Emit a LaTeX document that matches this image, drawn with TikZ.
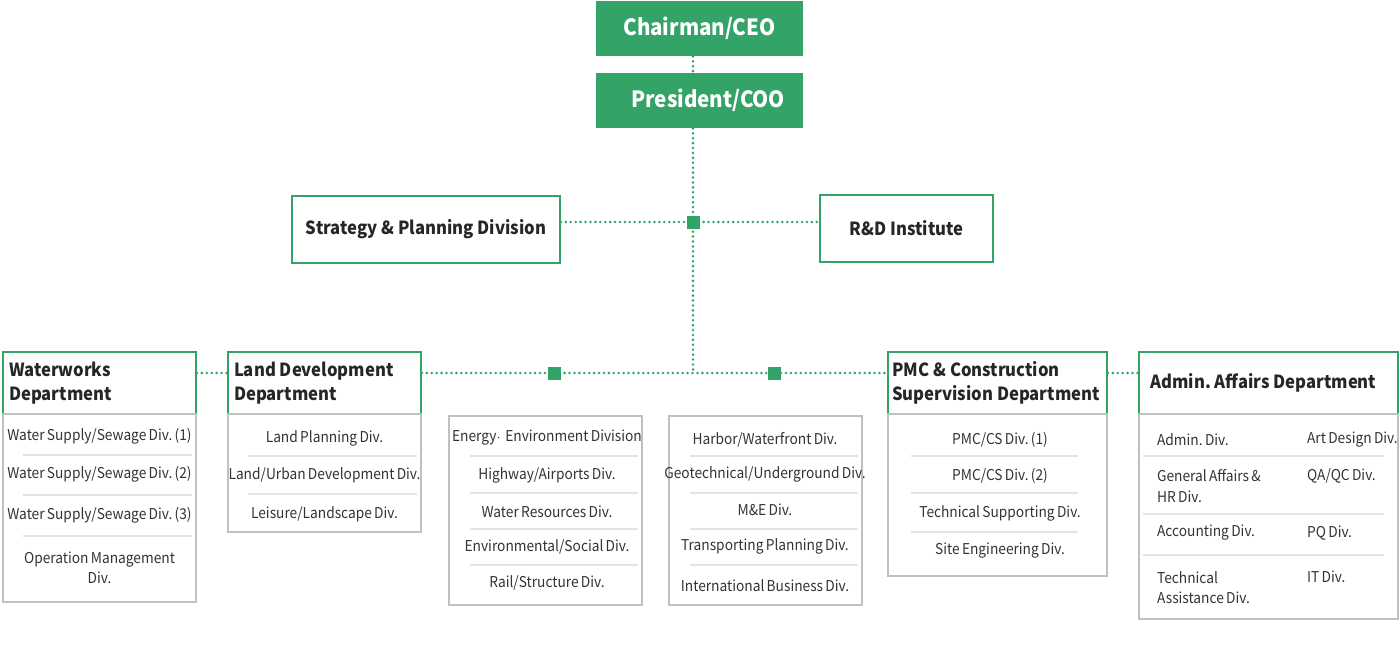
\documentclass[tikz,border=0pt]{standalone}
\usepackage{fontspec}
\setmainfont{Noto Sans CJK KR}[FakeStretch=0.92, WordSpace=0.75]
\usepackage{tikz}
\usepackage{xcolor}
\hyphenpenalty=10000
\exhyphenpenalty=10000
\frenchspacing

\definecolor{orggreen}{RGB}{52,163,104}
\definecolor{boxgray}{RGB}{192,192,192}
\definecolor{sepgray}{RGB}{228,228,228}
\definecolor{txtgray}{RGB}{51,51,51}

% bold headings with tighter word space
\newcommand{\headfont}[1]{\bfseries\fontsize{#1}{13.5}\selectfont}
\newcommand{\tightspace}{\spaceskip=0.22em plus 0.1em minus 0.05em\relax}

\tikzset{
  topbox/.style={fill=orggreen, text=white, font=\headfont{12.7}, minimum width=4.14cm, minimum height=1.1cm, inner sep=0pt},
  midbox/.style={draw=orggreen, line width=1.1pt, text=black!85, font=\headfont{10.3}, minimum height=1.34cm, inner sep=0pt, execute at begin node=\tightspace},
  headbox/.style={draw=orggreen, line width=1.1pt, fill=white, text=black!85, font=\headfont{10.3}, align=left, minimum height=1.24cm, inner sep=0.12cm, execute at begin node=\tightspace},
  itembox/.style={draw=boxgray, line width=0.6pt},
  item/.style={text=txtgray, font=\fontsize{8.5}{11.5}\selectfont, inner sep=1pt, align=center},
  sep/.style={draw=sepgray, line width=0.6pt},
  dots/.style={draw=orggreen, line width=1.6pt, line cap=round, dash pattern=on 0pt off 2.8pt},
  knot/.style={fill=orggreen, minimum size=0.26cm, inner sep=0pt}
}

\begin{document}
\begin{tikzpicture}[x=0.02cm, y=-0.02cm]
\useasboundingbox (0,0) rectangle (1400,654);

% Top management
\node[topbox] (ceo) at (699.5,28.5) {Chairman/CEO};
\node[topbox] (coo) at (699.5,100.5) {\hspace{10pt}President/COO};

% Staff units
\node[midbox, minimum width=5.36cm] (strat) at (426,229.5) {Strategy \& Planning Division};
\node[midbox, minimum width=3.46cm] (rnd) at (906.5,228.5) {R\&D Institute};

% Department headers
\node[headbox, text width=3.62cm] (water) at (99.5,383) {Waterworks\\Department};
\node[headbox, text width=3.62cm] (land) at (324.5,383) {Land Development\\Department};
\node[headbox, text width=4.22cm, inner sep=0.08cm] (pmc) at (997.5,383) {PMC \& Construction\\Supervision Department};
\node[headbox, text width=4.72cm, inner sep=0.23cm] (admin) at (1268.5,383) {Admin. Affairs Department};

% Connectors
\coordinate (hub) at (693,373);
\node[knot] (k0) at (693,222) {};
\draw[dots] (ceo.south -| hub) -- (coo.north -| hub);
\draw[dots] (coo.south -| hub) -- (hub);
\draw[dots] (strat.east |- k0) -- (rnd.west |- k0);
\draw[dots] (water.east |- hub) -- (land.west |- hub);
\draw[dots] (land.east |- hub) -- (pmc.west |- hub);
\draw[dots] (pmc.east |- hub) -- (admin.west |- hub);
\node[knot] at (693,222) {};
\node[knot] (ka) at (554,373) {};
\node[knot] (kb) at (774,373) {};

% Waterworks divisions
\draw[itembox] (3,414) rectangle (196,602);
\foreach \y in {455,495,536} \draw[sep] (23,\y) -- (192,\y);
\node[item] (w1) at (99.5,436) {Water Supply/Sewage Div. (1)};
\node[item] (w2) at (99.5,474) {Water Supply/Sewage Div. (2)};
\node[item] (w3) at (99.5,515) {Water Supply/Sewage Div. (3)};
\node[item] (w4) at (99.5,568) {Operation Management\\Div.};

% Land development divisions
\draw[itembox] (228,414) rectangle (421,532);
\foreach \y in {456,494} \draw[sep] (248,\y) -- (417,\y);
\node[item] (l1) at (324.5,438) {Land Planning Div.};
\node[item] (l2) at (324.5,475) {Land/Urban Development Div.};
\node[item] (l3) at (324.5,514) {Leisure/Landscape Div.};

% Divisions left of the hub
\draw[itembox] (449,416) rectangle (642,605);
\foreach \y in {456,493,529,565} \draw[sep] (470,\y) -- (638,\y);
\node[item] (e1) at (547,438) {Energy$\cdot$\ \ Environment Division};
\node[item] (e2) at (547,475) {Highway/Airports Div.};
\node[item] (e3) at (547,512) {Water Resources Div.};
\node[item] (e4) at (547,547) {Environmental/Social Div.};
\node[item] (e5) at (547,583) {Rail/Structure Div.};

% Divisions right of the hub
\draw[itembox] (669,416) rectangle (862,605);
\foreach \y in {456,493,529,565} \draw[sep] (690,\y) -- (858,\y);
\node[item] (h1) at (765,440) {Harbor/Waterfront Div.};
\node[item] (h2) at (765,474) {Geotechnical/Underground Div.};
\node[item] (h3) at (765,510) {M\&E Div.};
\node[item] (h4) at (765,546) {Transporting Planning Div.};
\node[item] (h5) at (765,586) {International Business Div.};

% PMC divisions
\draw[itembox] (888,414) rectangle (1107,576);
\foreach \y in {456,493,532} \draw[sep] (911,\y) -- (1078,\y);
\node[item] (p1) at (1000,440) {PMC/CS Div. (1)};
\node[item] (p2) at (1000,476) {PMC/CS Div. (2)};
\node[item] (p3) at (1000,513) {Technical Supporting Div.};
\node[item] (p4) at (1000,551) {Site Engineering Div.};

% Admin divisions
\draw[itembox] (1139,414) rectangle (1398,619);
\foreach \y in {456,514,555} \draw[sep] (1143,\y) -- (1384,\y);
\node[item, align=left, anchor=west] (a1) at (1155,440) {Admin. Div.};
\node[item, align=left, anchor=west] (a2) at (1155,486) {General Affairs \&\\HR Div.};
\node[item, align=left, anchor=west] (a3) at (1155,533) {Accounting Div.};
\node[item, align=left, anchor=west] (a4) at (1155,588) {Technical\\Assistance Div.};
\node[item, align=left, anchor=west] (a5) at (1305,440) {Art Design Div.};
\node[item, align=left, anchor=west] (a6) at (1305,476) {QA/QC Div.};
\node[item, align=left, anchor=west] (a7) at (1305,533) {PQ Div.};
\node[item, align=left, anchor=west] (a8) at (1305,577) {IT Div.};
\end{tikzpicture}
\end{document}
